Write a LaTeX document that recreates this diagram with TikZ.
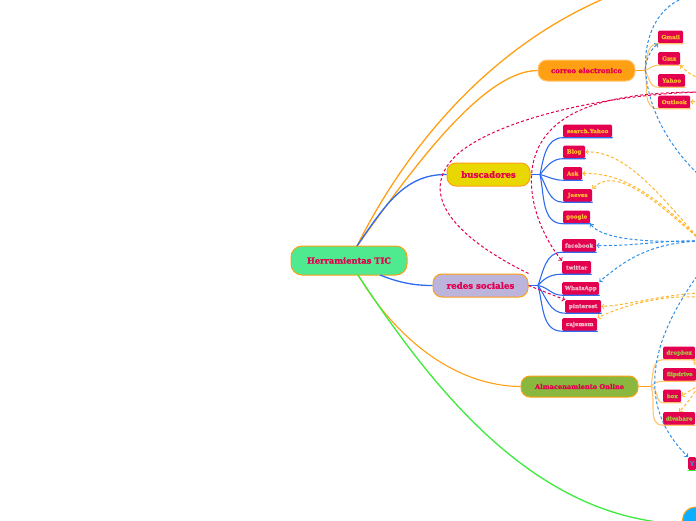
\documentclass[tikz,border=0pt]{standalone}
\usepackage{fontspec}
\setmainfont{DejaVu Serif}[BoldFeatures={FakeBold=1.4}]
\usetikzlibrary{arrows}
\definecolor{crim}{HTML}{E2004F}
\definecolor{orangeA}{HTML}{FF9F14}
\definecolor{orangeB}{HTML}{FFC56E}
\definecolor{blueA}{HTML}{2F6BF0}
\definecolor{blueD}{HTML}{2F8FE8}
\definecolor{yellowD}{HTML}{FFB62E}
\definecolor{greenA}{HTML}{3DEB3D}
\definecolor{rootfill}{HTML}{4FE98F}
\definecolor{buscfill}{HTML}{E8D800}
\definecolor{redesfill}{HTML}{BDB4DC}
\definecolor{almafill}{HTML}{8AB83F}
\definecolor{bottomfill}{HTML}{0AB0FF}
\definecolor{leafpink}{HTML}{F2B8C6}
\definecolor{leafgreen}{HTML}{A8C040}
\begin{document}
\begin{tikzpicture}[x=1pt,y=1pt]
	\tikzstyle{topic}=[draw=orangeA,line width=1pt,rounded corners=9pt,inner sep=0pt,minimum height=22pt,text=crim]
	\tikzstyle{leaf}=[fill=crim,rounded corners=1.5pt,inner sep=0pt,minimum height=13pt,anchor=west,font=\bfseries\fontsize{5.6}{6}\selectfont]
	\tikzstyle{branch}=[line width=1.1pt,line cap=round]
	\tikzstyle{trunk}=[line width=1.3pt]
	\tikzstyle{stub}=[line width=1.8pt]
	\tikzstyle{link}=[dashed,dash pattern=on 3pt off 2.2pt,line width=1pt,->]
	\useasboundingbox (0,-520) rectangle (696,0);
	\clip (0,-520) rectangle (696,0);
	% main topics
	\node[topic,fill=rootfill,minimum width=116pt,minimum height=29pt,rounded corners=11pt,font=\bfseries\fontsize{8.3}{10}\selectfont] (root) at (349,-260.5) {Herramientas TIC};
	\node[topic,fill=orangeA,draw=orangeB,minimum width=97pt,minimum height=21pt,font=\bfseries\fontsize{6.9}{8}\selectfont] (correo) at (586.5,-70.5) {correo electronico};
	\node[topic,fill=buscfill,minimum width=83pt,minimum height=23pt,font=\bfseries\fontsize{8.6}{10}\selectfont] (busc) at (488.5,-174.5) {buscadores};
	\node[topic,fill=redesfill,minimum width=95pt,minimum height=23pt,font=\bfseries\fontsize{8.6}{10}\selectfont] (redes) at (480.5,-285.5) {redes sociales};
	\node[topic,fill=almafill,minimum width=117pt,minimum height=21pt,font=\bfseries\fontsize{6.6}{8}\selectfont] (alma) at (579.5,-386.5) {Almacenamiento Online};
	\node[topic,fill=bottomfill,anchor=west,minimum width=90pt,minimum height=34pt,rounded corners=13pt] (bottom) at (682,-524) {};
	% leaves
	\node[leaf,text=yellowD,minimum width=25pt] (gmail) at (658,-37) {Gmail};
	\node[leaf,text=yellowD,minimum width=22pt] (gmx) at (658,-58.5) {Gmx};
	\node[leaf,text=yellowD,minimum width=27pt] (yahoo) at (658,-80.5) {Yahoo};
	\node[leaf,text=yellowD,minimum width=32pt] (outlook) at (658,-102) {Outlook};
	\node[leaf,text=yellowD,minimum width=49pt] (search) at (563,-131) {search.Yahoo};
	\node[leaf,text=yellowD,minimum width=22pt] (blog) at (563,-152) {Blog};
	\node[leaf,text=yellowD,minimum width=19pt] (ask) at (563,-173.5) {Ask};
	\node[leaf,text=yellowD,minimum width=29pt] (jeeves) at (563,-195.5) {Jeeves};
	\node[leaf,text=yellowD,minimum width=27pt] (google) at (563,-217) {google};
	\node[leaf,text=leafpink,minimum width=34pt] (facebook) at (562,-245.5) {facebook};
	\node[leaf,text=leafpink,minimum width=29pt] (twitter) at (562,-267.5) {twitter};
	\node[leaf,text=leafpink,minimum width=37pt] (whatsapp) at (562,-288.5) {WhatsApp};
	\node[leaf,text=leafpink,minimum width=36pt] (pinterest) at (565,-306.5) {pinterest};
	\node[leaf,text=leafpink,minimum width=35pt] (cajemsm) at (562,-324.5) {cajemsm};
	\node[leaf,text=leafgreen,minimum width=32pt] (dropbox) at (663,-353) {dropbox};
	\node[leaf,text=leafgreen,minimum width=33pt] (flipdrive) at (663,-374.5) {flipdrive};
	\node[leaf,text=leafgreen,minimum width=18pt] (box) at (663,-396) {box};
	\node[leaf,text=leafgreen,minimum width=32pt] (divshare) at (663,-418.5) {divshare};
	\node[leaf,text=blueD,minimum width=8pt] (yleaf) at (688,-463.5) {Y};
	% free ends outside the page
	\coordinate (offtop) at (620,8);
	\coordinate (hub) at (700,-240);
	\coordinate (hubblue) at (700,-241);
	\coordinate (arctop) at (684,2);
	\coordinate (arcend) at (700,-176);
	\coordinate (arclow) at (700,-272);
	\coordinate (crimend) at (700,-92);
	\coordinate (pinend) at (700,-293);
	\coordinate (cajend) at (700,-297);
	\coordinate (gmxend) at (700,-79);
	\coordinate (outend) at (700,-100);
	\coordinate (dropend) at (700,-367);
	\coordinate (boxend) at (700,-386);
	\coordinate (divend) at (700,-382);
	\coordinate (cjunc) at (645,-70.5);
	\coordinate (bjunc) at (540,-174.5);
	\coordinate (rjunc) at (538,-285.5);
	\coordinate (ajunc) at (651,-386.5);
	\coordinate (rootup) at (357,-246);
	\coordinate (rootdown) at (358,-275);
	\coordinate (rootlow) at (380,-275);
	% root branches
	\draw[orangeA,trunk] (rootup) .. controls (405,-180) and (480,-71) .. (correo.west);
	\draw[orangeA,trunk] (rootup) .. controls (390,-180) and (470,-50) .. (offtop);
	\draw[blueA,trunk] (rootup) .. controls (385,-205) and (405,-174) .. (busc.west);
	\draw[blueA,trunk] (rootlow) .. controls (400,-283) and (415,-285.5) .. (redes.west);
	\draw[orangeA,line width=1.1pt] (rootdown) .. controls (400,-345) and (460,-386) .. (alma.west);
	\draw[greenA,trunk] (rootdown) .. controls (440,-400) and (540,-519) .. (bottom.west);
	% stubs
	\draw[orangeA,stub] (correo) -- (cjunc);
	\draw[blueA,stub] (busc) -- (bjunc);
	\draw[blueA,stub] (redes) -- (rjunc);
	\draw[orangeA,stub] (alma) -- (ajunc);
	% leaf branches
	\foreach \name/\ang in {gmail/80,gmx/20,yahoo/-60,outlook/-78}
		\draw[orangeB,branch] (cjunc) to[out=\ang,in=180] (\name.south west) -- (\name.south east);
	\foreach \name/\ang in {search/78,blog/50,ask/-15,jeeves/-60,google/-78}
		\draw[blueA,branch] (bjunc) to[out=\ang,in=180] (\name.south west) -- (\name.south east);
	\foreach \name/\ang in {facebook/70,twitter/50,whatsapp/-10,pinterest/-55,cajemsm/-75}
		\draw[blueA,branch] (rjunc) to[out=\ang,in=180] (\name.south west) -- (\name.south east);
	\foreach \name/\ang in {dropbox/78,flipdrive/50,box/-15,divshare/-70}
		\draw[orangeB,branch] (ajunc) to[out=\ang,in=180] (\name.south west) -- (\name.south east);
	\draw[greenA,branch] (yleaf.south west) -- (yleaf.south east);
	% dashed links
	\draw[crim,link] (redes.north east) .. controls (450,-235) and (415,-190) .. (460,-152) .. controls (500,-120) and (600,-95) .. (crimend);
	\draw[crim,link] (crimend) .. controls (620,-92) and (540,-105) .. (532,-170) .. controls (528,-205) and (545,-240) .. (twitter.north west);
	\draw[crim,link] (redes.east) -- (pinterest.north west);
	\draw[blueD,link,-] (arctop) .. controls (635,-15) and (625,-105) .. (arcend);
	\draw[blueD,link] (cjunc) .. controls (646,-60) and (650,-50) .. (gmail.south west);
	\draw[blueD,link] (arclow) .. controls (665,-320) and (625,-395) .. (yleaf.north west);
	\draw[blueD,link] (hubblue) .. controls (660,-240) and (640,-246) .. (facebook.east);
	\draw[blueD,link] (hubblue) .. controls (650,-243) and (625,-260) .. (whatsapp.north east);
	\draw[blueD,link] (hubblue) .. controls (640,-243) and (600,-238) .. (google.south east);
	\draw[yellowD,link] (hub) .. controls (660,-195) and (625,-150) .. (blog.east);
	\draw[yellowD,link] (hub) .. controls (660,-200) and (625,-172) .. (ask.east);
	\draw[yellowD,link] (hub) .. controls (655,-200) and (615,-165) .. (jeeves.north east);
	\draw[yellowD,link] (pinend) .. controls (660,-295) and (630,-305) .. (pinterest.east);
	\draw[yellowD,link] (cajend) .. controls (660,-295) and (625,-305) .. (cajemsm.north east);
	\draw[yellowD,link] (gmxend) .. controls (692,-75) and (686,-72) .. (gmx.south east);
	\draw[yellowD,link] (outend) .. controls (697,-101) and (694,-102) .. (outlook.east);
	\draw[yellowD,link] (dropend) .. controls (695,-365) and (692,-363) .. (dropbox.south east);
	\draw[yellowD,link] (boxend) .. controls (693,-388) and (688,-392) .. (box.east);
	\draw[yellowD,link] (divend) .. controls (694,-395) and (688,-402) .. (divshare.north);
\end{tikzpicture}
\end{document}
